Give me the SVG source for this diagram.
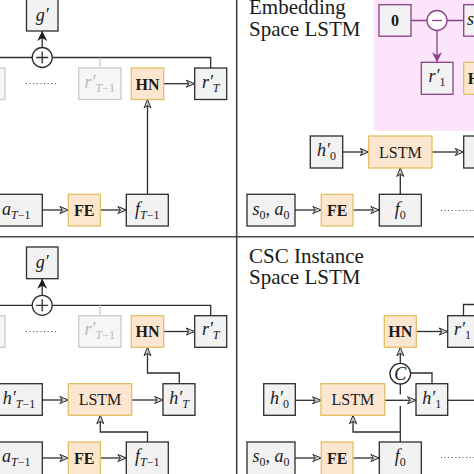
<svg xmlns="http://www.w3.org/2000/svg" width="474" height="474" viewBox="0 0 474 474">
<style>
.b{fill:#f2f2f2;stroke:#2d2d2d;stroke-width:1.3}
.o{fill:#fde6cf;stroke:#e3bf63;stroke-width:1.3}
.g{fill:#f6f6f6;stroke:#cacaca;stroke-width:1.3}
.p{fill:#f2f2f2;stroke:#8c3f8c;stroke-width:1.3}
.m{font-family:"Liberation Serif",serif;font-style:italic;font-size:18px;fill:#1a1a1a;text-anchor:middle}
.ms{font-family:"Liberation Serif",serif;font-style:italic;font-size:18px;fill:#1a1a1a;text-anchor:start}
.gm{fill:#b8b8b8}
.t{font-family:"Liberation Serif",serif;font-weight:bold;font-size:16px;fill:#1a1a1a;text-anchor:middle}
.r{font-family:"Liberation Serif",serif;font-size:16px;fill:#1a1a1a;text-anchor:middle}
.ti{font-family:"Liberation Serif",serif;font-size:21px;fill:#1a1a1a}
.ln{stroke:#2d2d2d;stroke-width:1.3;fill:none}
.gl{stroke:#c8c8c8;stroke-width:1.3;fill:none}
.pl{stroke:#8c3f8c;stroke-width:1.3;fill:none}
.ar{marker-end:url(#a)}
.dots{stroke:#444;stroke-width:1.1;stroke-dasharray:1 2.6;fill:none}
.div{stroke:#444;stroke-width:1.6;fill:none}
.c{fill:#fff;stroke:#2d2d2d;stroke-width:1.3}
.s{font-size:12px}
.n{font-style:normal}
</style>
<defs>
<marker id="a" markerUnits="userSpaceOnUse" markerWidth="11" markerHeight="9" refX="9.5" refY="4.5" orient="auto">
<path d="M1,1 L9.5,4.5 L1,8 L3.5,4.5 Z" fill="#d0d0d0" stroke="#2d2d2d" stroke-width="1"/>
</marker>
<marker id="k" markerUnits="userSpaceOnUse" markerWidth="12" markerHeight="11" refX="10" refY="5.5" orient="auto">
<path d="M0,0.5 L10,5.5 L0,10.5 L3,5.5 Z" fill="#1a1a1a"/>
</marker>
<marker id="pm" markerUnits="userSpaceOnUse" markerWidth="12" markerHeight="11" refX="10" refY="5.5" orient="auto">
<path d="M0,0.5 L10,5.5 L0,10.5 L3,5.5 Z" fill="#8c3f8c"/>
</marker>
</defs>

<rect x="373.7" y="0" width="101" height="131" fill="#fce5fb"/>

<g id="dividers">
<line class="div" x1="236.7" y1="0" x2="236.7" y2="474"/>
<line class="div" x1="0" y1="236.7" x2="474" y2="236.7"/>
</g>

<g id="titles">
<text class="ti" x="249" y="14">Embedding</text>
<text class="ti" x="249" y="35.5">Space LSTM</text>
<text class="ti" x="249" y="262.5">CSC Instance</text>
<text class="ti" x="249" y="284">Space LSTM</text>
</g>

<g id="connectors">
<path class="ln" d="M0,57.5 H32.2 M52.2,57.5 H210.7 V68"/>
<line class="ln" x1="42.2" y1="47.5" x2="42.2" y2="31" marker-end="url(#k)"/>
<line class="gl" x1="100" y1="57.5" x2="100" y2="68"/>
<line class="dots" x1="26" y1="83.5" x2="57" y2="83.5"/>
<line class="ln ar" x1="163.7" y1="83.7" x2="194.7" y2="83.7"/>
<line class="ln ar" x1="147.5" y1="194.3" x2="147.5" y2="99.5"/>
<line class="ln ar" x1="42.3" y1="210" x2="68.3" y2="210"/>
<line class="ln ar" x1="100.3" y1="210" x2="126.3" y2="210"/>
<path class="pl" d="M411,20.5 H427 M447,20.5 H463.7"/>
<line class="pl" x1="437" y1="30.5" x2="437" y2="62.3" marker-end="url(#pm)"/>
<line class="ln ar" x1="342.7" y1="152" x2="368.7" y2="152"/>
<line class="ln ar" x1="432" y1="152" x2="463.7" y2="152"/>
<line class="ln ar" x1="295" y1="210" x2="321.3" y2="210"/>
<line class="ln ar" x1="353" y1="210" x2="379.3" y2="210"/>
<line class="ln ar" x1="400.3" y1="194.3" x2="400.3" y2="168"/>
<line class="dots" x1="441" y1="210.5" x2="476" y2="210.5"/>
<path class="ln" d="M0,305.3 H32.2 M52.2,305.3 H210.7 V315.7"/>
<line class="ln" x1="42.2" y1="295.3" x2="42.2" y2="278.7" marker-end="url(#k)"/>
<line class="gl" x1="100" y1="305.3" x2="100" y2="315.7"/>
<line class="dots" x1="26" y1="331.5" x2="57" y2="331.5"/>
<line class="ln ar" x1="163.7" y1="331.5" x2="194.7" y2="331.5"/>
<line class="ln ar" x1="42.3" y1="400" x2="68.3" y2="400"/>
<line class="ln ar" x1="131.7" y1="400" x2="163" y2="400"/>
<path class="ln ar" d="M179.3,383.7 V373 H147.5 V347.3"/>
<line class="ln ar" x1="42.3" y1="458" x2="68.3" y2="458"/>
<line class="ln ar" x1="100.3" y1="458" x2="126.3" y2="458"/>
<path class="ln ar" d="M147.5,442 V432 H100.3 V415.3"/>
<path class="ln" d="M463.5,315.7 V304.5 H476"/>
<line class="ln ar" x1="416.3" y1="331.5" x2="447.7" y2="331.5"/>
<line class="ln ar" x1="400.3" y1="363.4" x2="400.3" y2="347.3"/>
<path class="ln" d="M432,383.7 V373 H410.6"/>
<line class="ln ar" x1="295.3" y1="400.3" x2="321" y2="400.3"/>
<line class="ln ar" x1="384.7" y1="400.3" x2="416" y2="400.3"/>
<line class="ln" x1="447.7" y1="400.3" x2="476" y2="400.3"/>
<path class="ln" d="M400.3,442 V406 M400.3,394.5 V384"/>
<path class="ln ar" d="M400.3,432 H353 V415.3"/>
<line class="ln ar" x1="295" y1="458" x2="321.3" y2="458"/>
<line class="ln ar" x1="353" y1="458" x2="379.3" y2="458"/>
<line class="dots" x1="441" y1="457.5" x2="476" y2="457.5"/>
</g>

<g id="tl-g"><rect class="b" x="26.5" y="-1" width="31.5" height="32"/><text class="m" x="42.2" y="20.5">g′</text></g>
<g id="tl-plus"><circle class="c" cx="42.2" cy="57.5" r="10"/><path class="ln" d="M36.2,57.5 H48.2 M42.2,51.5 V63.5" stroke-width="1"/></g>
<g id="tl-rprev"><rect class="g" x="-30" y="68" width="35" height="31.5"/></g>
<g id="tl-rT1"><rect class="g" x="78.7" y="68" width="42.3" height="31.5"/><text class="m gm" x="99.8" y="87.5">r′<tspan class="s" dy="4">T<tspan class="n">−1</tspan></tspan></text></g>
<g id="tl-hn"><rect class="o" x="131.3" y="68" width="32.4" height="31.5"/><text class="t" x="147.5" y="89.5">HN</text></g>
<g id="tl-rT"><rect class="b" x="194.7" y="68" width="32" height="31.5"/><text class="m" x="210.7" y="87.5">r′<tspan class="s" dy="4">T</tspan></text></g>
<g id="tl-a"><rect class="b" x="-10" y="194.3" width="52.3" height="31.7"/><text class="ms" x="2" y="214.5">a<tspan class="s" dy="4">T<tspan class="n">−1</tspan></tspan></text></g>
<g id="tl-fe"><rect class="o" x="68.3" y="194.3" width="32" height="31.7"/><text class="t" x="84.3" y="215.8">FE</text></g>
<g id="tl-f"><rect class="b" x="126.3" y="194.3" width="42" height="31.7"/><text class="m" x="147.3" y="214.5">f<tspan class="s" dy="4">T<tspan class="n">−1</tspan></tspan></text></g>

<g id="tr-0"><rect class="p" x="379" y="4.7" width="32" height="31.5"/><text class="t" x="395" y="26">0</text></g>
<g id="tr-minus"><circle cx="437" cy="20.5" r="10" fill="#fff" stroke="#8c3f8c" stroke-width="1.3"/><line class="pl" x1="432" y1="20.5" x2="442" y2="20.5" stroke-width="1"/></g>
<g id="tr-s"><rect class="p" x="463.7" y="4.7" width="40" height="31.5"/><text class="ms" x="467" y="25">s</text></g>
<g id="tr-r1"><rect class="p" x="421.3" y="62.3" width="31.7" height="32"/><text class="m" x="437" y="82">r′<tspan class="s n" dy="4">1</tspan></text></g>
<g id="tr-hn"><rect class="o" x="463.7" y="62.3" width="32" height="32"/><text class="t" x="479.7" y="84">HN</text></g>
<g id="tr-h0"><rect class="b" x="310.3" y="136" width="32.4" height="32"/><text class="m" x="326.5" y="155.5">h′<tspan class="s n" dy="4">0</tspan></text></g>
<g id="tr-lstm"><rect class="o" x="368.7" y="136" width="63.3" height="32"/><text class="r" x="400.3" y="157.5">LSTM</text></g>
<g id="tr-h1"><rect class="b" x="463.7" y="136" width="32" height="32"/></g>
<g id="tr-sa"><rect class="b" x="247" y="194.3" width="48" height="31.7"/><text class="m" x="271" y="214.5">s<tspan class="s n" dy="4">0</tspan><tspan dy="-4">, a</tspan><tspan class="s n" dy="4">0</tspan></text></g>
<g id="tr-fe"><rect class="o" x="321.3" y="194.3" width="31.7" height="31.7"/><text class="t" x="337.2" y="215.8">FE</text></g>
<g id="tr-f0"><rect class="b" x="379.3" y="194.3" width="42" height="31.7"/><text class="m" x="400.3" y="214.5">f<tspan class="s n" dy="4">0</tspan></text></g>

<g id="bl-g"><rect class="b" x="26.5" y="247" width="31.5" height="31.7"/><text class="m" x="42.2" y="268">g′</text></g>
<g id="bl-plus"><circle class="c" cx="42.2" cy="305.3" r="10"/><path class="ln" d="M36.2,305.3 H48.2 M42.2,299.3 V311.3" stroke-width="1"/></g>
<g id="bl-rprev"><rect class="g" x="-30" y="315.7" width="35" height="31.6"/></g>
<g id="bl-rT1"><rect class="g" x="78.7" y="315.7" width="42.3" height="31.6"/><text class="m gm" x="99.8" y="335.3">r′<tspan class="s" dy="4">T<tspan class="n">−1</tspan></tspan></text></g>
<g id="bl-hn"><rect class="o" x="131.3" y="315.7" width="32.4" height="31.6"/><text class="t" x="147.5" y="337.2">HN</text></g>
<g id="bl-rT"><rect class="b" x="194.7" y="315.7" width="32" height="31.6"/><text class="m" x="210.7" y="335.3">r′<tspan class="s" dy="4">T</tspan></text></g>
<g id="bl-hT1"><rect class="b" x="-4" y="383.7" width="46.3" height="31.6"/><text class="m" x="19" y="403.5">h′<tspan class="s" dy="4">T<tspan class="n">−1</tspan></tspan></text></g>
<g id="bl-lstm"><rect class="o" x="68.3" y="383.7" width="63.4" height="31.6"/><text class="r" x="100" y="405.2">LSTM</text></g>
<g id="bl-hT"><rect class="b" x="163" y="383.7" width="32" height="31.6"/><text class="m" x="179" y="403.5">h′<tspan class="s" dy="4">T</tspan></text></g>
<g id="bl-a"><rect class="b" x="-10" y="442" width="52.3" height="40"/><text class="ms" x="2" y="462">a<tspan class="s" dy="4">T<tspan class="n">−1</tspan></tspan></text></g>
<g id="bl-fe"><rect class="o" x="68.3" y="442" width="32" height="40"/><text class="t" x="84.3" y="463.5">FE</text></g>
<g id="bl-f"><rect class="b" x="126.3" y="442" width="42" height="40"/><text class="m" x="147.3" y="462">f<tspan class="s" dy="4">T<tspan class="n">−1</tspan></tspan></text></g>

<g id="br-hn"><rect class="o" x="384.3" y="315.7" width="32" height="31.6"/><text class="t" x="400.3" y="337.2">HN</text></g>
<g id="br-r1"><rect class="b" x="447.7" y="315.7" width="40" height="31.6"/><text class="m" x="462.5" y="335.3">r′<tspan class="s n" dy="4">1</tspan></text></g>
<g id="br-c"><circle class="c" cx="400.3" cy="373.7" r="10.3"/><text class="m" x="400.3" y="379.8">C</text></g>
<g id="br-h0"><rect class="b" x="263.7" y="383.7" width="31.6" height="31.6"/><text class="m" x="279.5" y="403.5">h′<tspan class="s n" dy="4">0</tspan></text></g>
<g id="br-lstm"><rect class="o" x="321" y="383.7" width="63.7" height="31.6"/><text class="r" x="352.8" y="405.2">LSTM</text></g>
<g id="br-h1"><rect class="b" x="416" y="383.7" width="31.7" height="31.6"/><text class="m" x="431.8" y="403.5">h′<tspan class="s n" dy="4">1</tspan></text></g>
<g id="br-sa"><rect class="b" x="247" y="442" width="48" height="40"/><text class="m" x="271" y="462">s<tspan class="s n" dy="4">0</tspan><tspan dy="-4">, a</tspan><tspan class="s n" dy="4">0</tspan></text></g>
<g id="br-fe"><rect class="o" x="321.3" y="442" width="31.7" height="40"/><text class="t" x="337.2" y="463.5">FE</text></g>
<g id="br-f0"><rect class="b" x="379.3" y="442" width="42" height="40"/><text class="m" x="400.3" y="462">f<tspan class="s n" dy="4">0</tspan></text></g>
</svg>
